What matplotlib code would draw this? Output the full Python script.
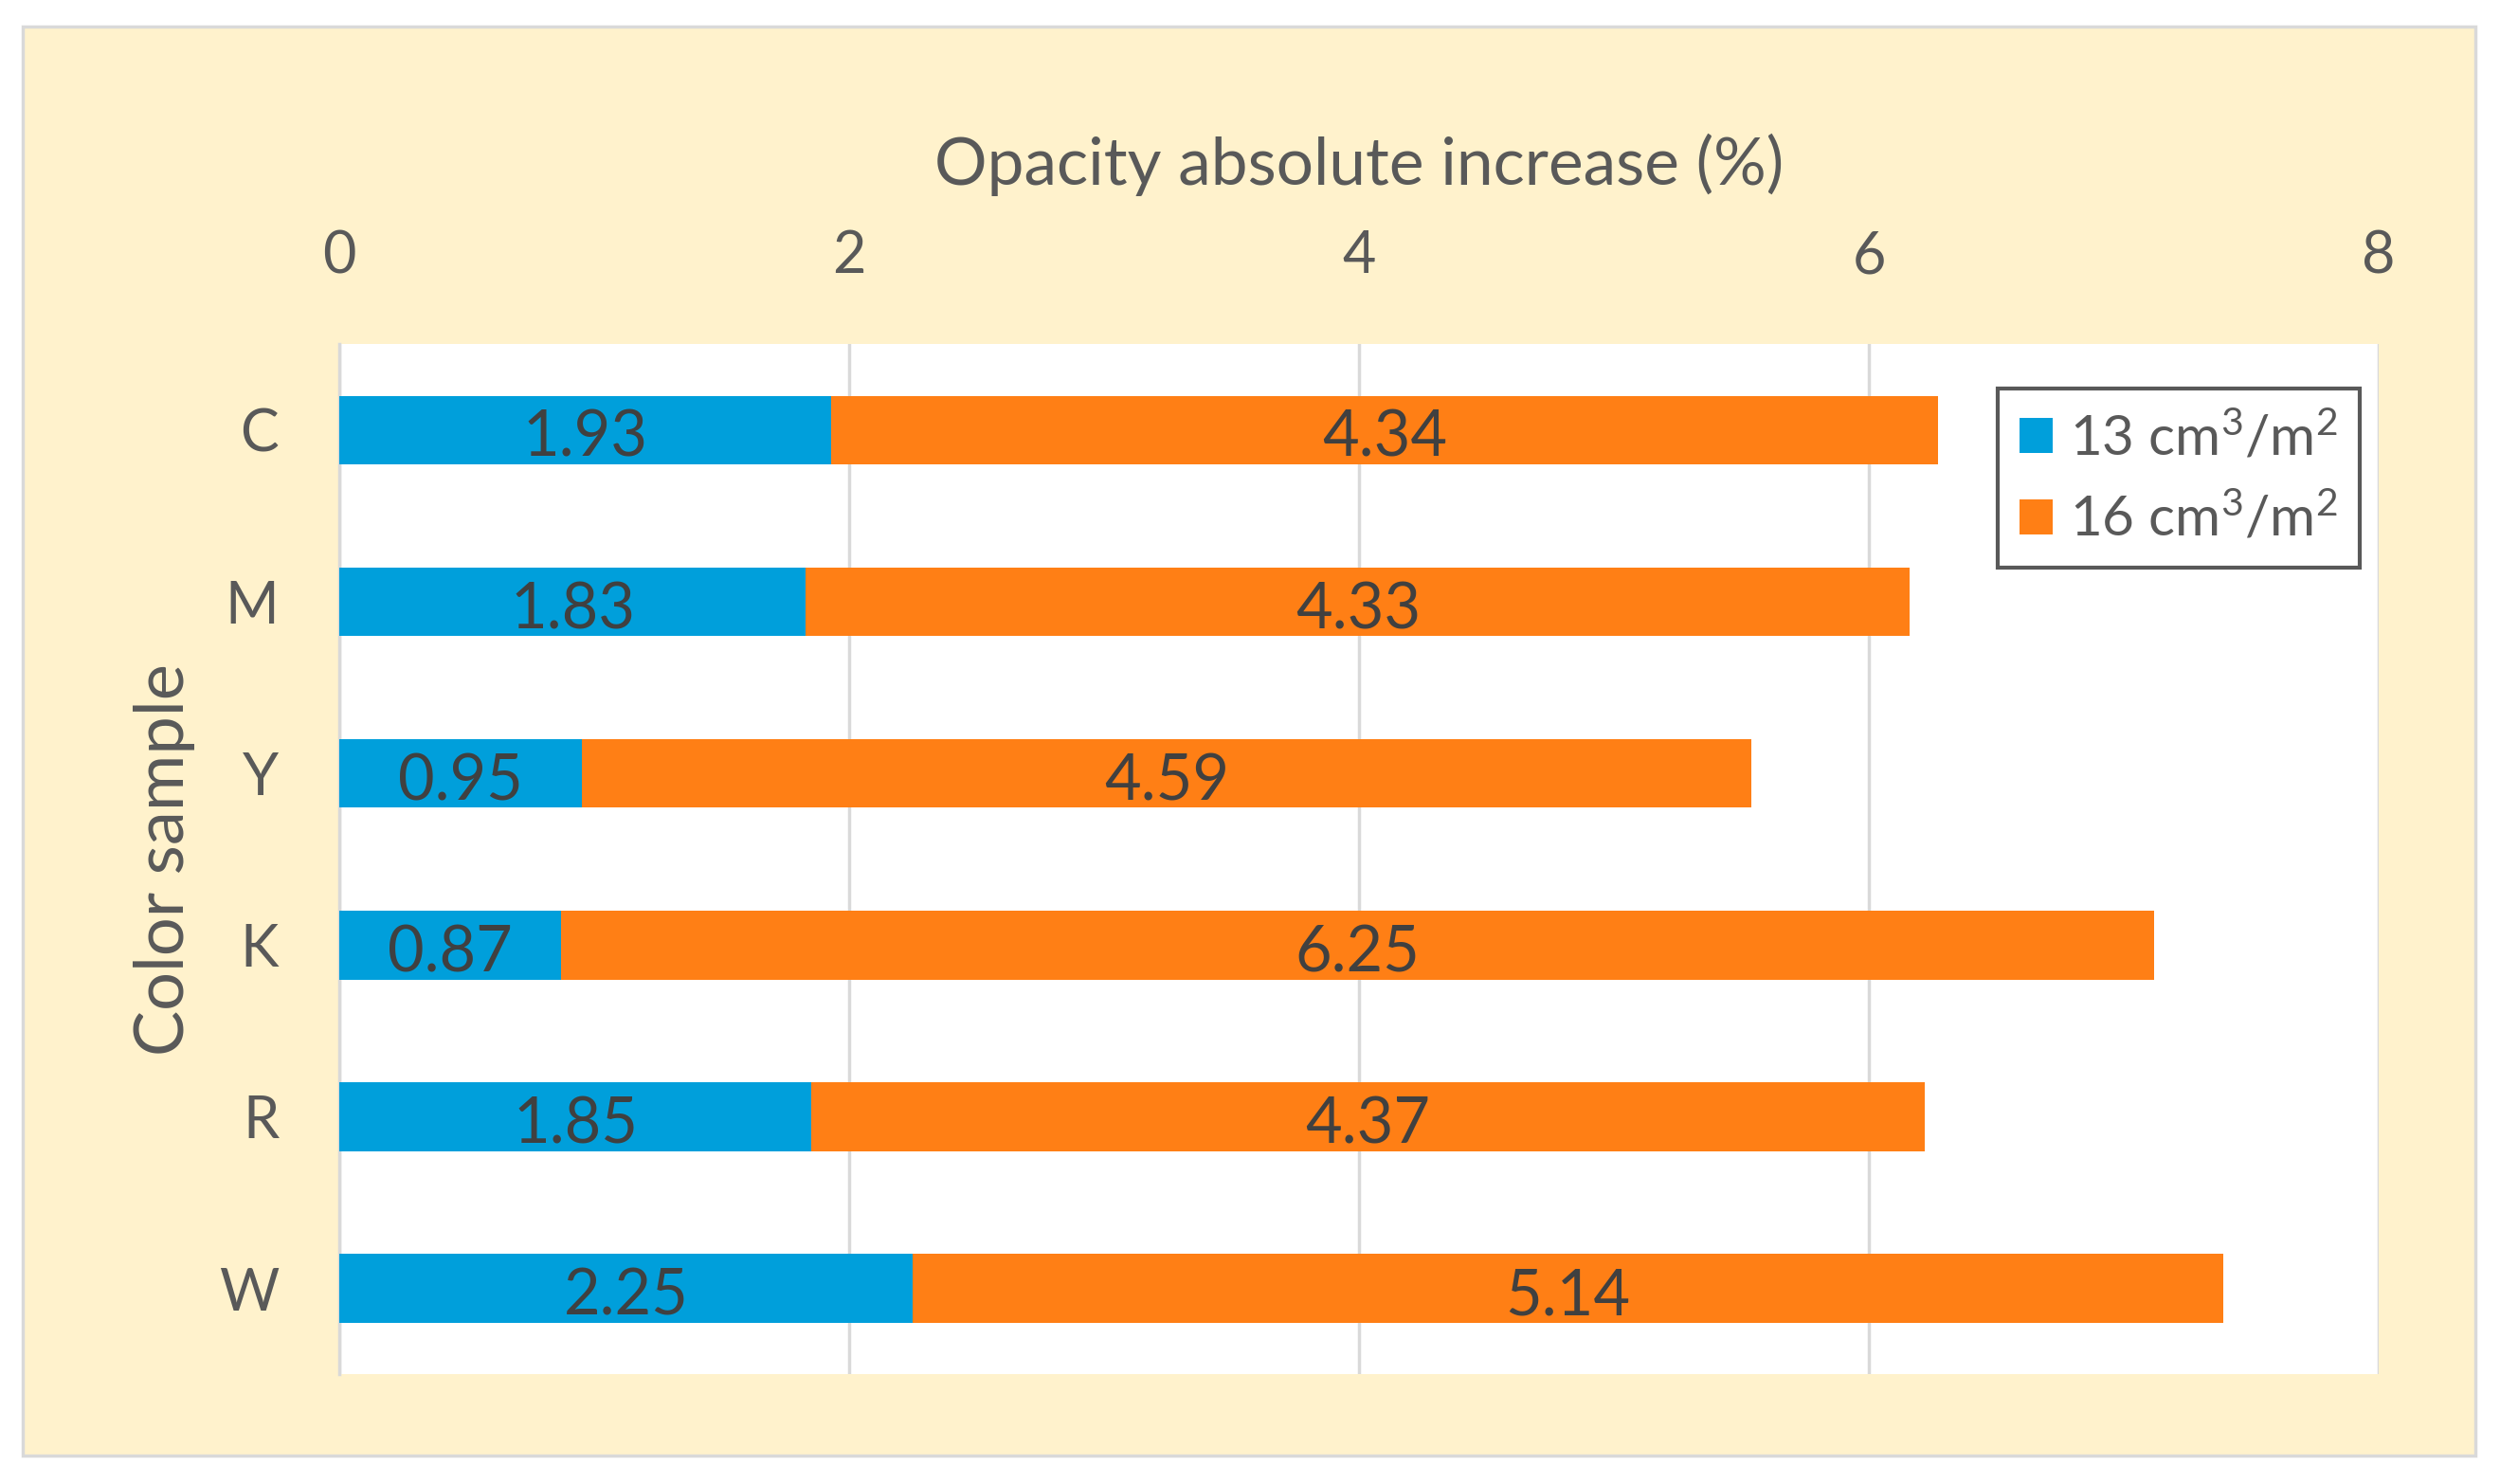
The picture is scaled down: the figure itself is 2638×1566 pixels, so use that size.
import numpy as np
import matplotlib
matplotlib.use('Agg')
import matplotlib.pyplot as plt
from matplotlib.patches import Rectangle

samples = ['C', 'M', 'Y', 'K', 'R', 'W']
vals_13 = [1.93, 1.83, 0.95, 0.87, 1.85, 2.25]
vals_16 = [4.34, 4.33, 4.59, 6.25, 4.37, 5.14]
series_names = ['13 cm$^{3}$/m$^{2}$', '16 cm$^{3}$/m$^{2}$']
xticks = [0, 2, 4, 6, 8]

blue = '#009FDB'
orange = '#FF7F15'
txt = '#404040'

plt.rcParams['font.family'] = ['Lato', 'DejaVu Sans']
plt.rcParams['mathtext.fontset'] = 'custom'
plt.rcParams['mathtext.rm'] = 'Lato'
plt.rcParams['mathtext.default'] = 'regular'

fig = plt.figure(figsize=(26.38, 15.66), dpi=100, facecolor='white')
fig.patches.append(Rectangle((0.009, 0.019), 0.981, 0.963, transform=fig.transFigure,
                             facecolor='#FFF2CC', edgecolor='#D9D9D9', linewidth=2.5, zorder=-10))

ax = fig.add_axes([0.1358, 0.074, 0.8157, 0.694])
ax.set_facecolor('white')

y = np.arange(len(samples))
b1 = ax.barh(y, vals_13, height=0.4, color=blue, label=series_names[0], zorder=3)
b2 = ax.barh(y, vals_16, left=vals_13, height=0.4, color=orange, label=series_names[1], zorder=3)

for i in range(len(samples)):
    ax.text(vals_13[i] / 2, y[i] + 0.05, f'{vals_13[i]:.2f}', ha='center', va='center',
            fontsize=48, color=txt, zorder=4)
    ax.text(vals_13[i] + vals_16[i] / 2, y[i] + 0.05, f'{vals_16[i]:.2f}', ha='center', va='center',
            fontsize=48, color=txt, zorder=4)

ax.set_xlim(0, 8)
ax.set_ylim(len(samples) - 0.5, -0.5)
ax.set_xticks(xticks)
ax.set_yticks(y)
ax.set_yticklabels(samples)
ax.xaxis.tick_top()
ax.xaxis.set_label_position('top')
ax.tick_params(axis='both', length=0, labelsize=44, labelcolor='#595959')
ax.tick_params(axis='x', pad=46)
ax.tick_params(axis='y', pad=46)
ax.grid(axis='x', color='#D9D9D9', linewidth=2.5, zorder=0)
for s in ['top', 'bottom', 'right']:
    ax.spines[s].set_visible(False)
ax.spines['left'].set_color('#D9D9D9')
ax.spines['left'].set_linewidth(2.5)

ax.set_xlabel('Opacity absolute increase (%)', fontsize=50, color='#595959', labelpad=34)
ax.set_ylabel('Color sample', fontsize=52, color='#595959', labelpad=18)

leg = ax.legend(loc='upper right', bbox_to_anchor=(0.9906, 0.9567), borderaxespad=0,
                fontsize=42, handlelength=0.6, handleheight=0.6, handletextpad=0.3,
                labelspacing=0.5, borderpad=0.4, fancybox=False, framealpha=1)
leg.get_frame().set_edgecolor('#595959')
leg.get_frame().set_linewidth(3)
for t in leg.get_texts():
    t.set_color('#595959')

fig.savefig('out.png', dpi=100, facecolor='white')
